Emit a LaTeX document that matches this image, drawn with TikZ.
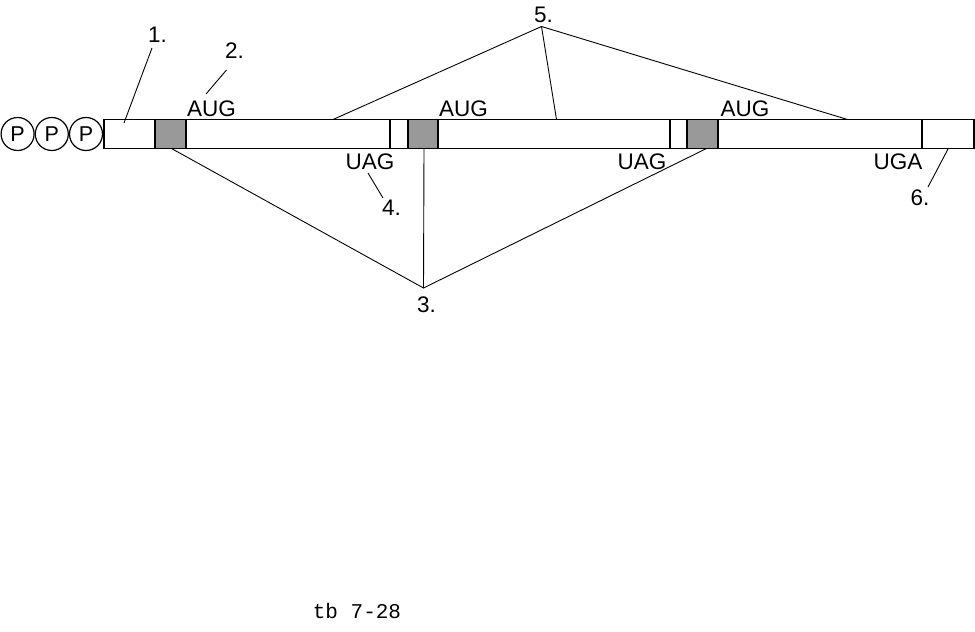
\documentclass[tikz,border=0pt]{standalone}
\usepackage{fontspec}
\setmainfont{Liberation Sans}
\setmonofont{Liberation Mono}
\usetikzlibrary{positioning}
\definecolor{startgray}{gray}{0.6}
\tikzset{
	phos/.style={draw, circle, minimum size=33pt, inner sep=0pt, line width=1.2pt, font=\fontsize{21.5}{25}\selectfont},
	codon/.style={anchor=base, inner sep=0pt, font=\fontsize{22.5}{26}\selectfont},
	num/.style={anchor=base, inner sep=0pt, font=\fontsize{22.5}{26}\selectfont},
	pointer/.style={line width=0.9pt},
	strand/.style={line width=1.3pt}
}
\begin{document}
\begin{tikzpicture}[x=1pt, y=-1pt]
			\useasboundingbox (0,0) rectangle (975,632);
			% cap
			\node[phos] (p3) at (86,134) {P};
			\node[phos, left=0pt of p3] (p2) {P};
			\node[phos, left=0pt of p2] (p1) {P};
			% strand
			\draw[strand] (104,119.5) rectangle (974,148.5);
			\draw[strand, fill=startgray] (155,119.5) rectangle (186,148.5);
			\draw[strand, fill=startgray] (408,119.5) rectangle (438,148.5);
			\draw[strand, fill=startgray] (687,119.5) rectangle (718,148.5);
			\draw[strand] (390,119.5) -- (390,148.5);
			\draw[strand] (670,119.5) -- (670,148.5);
			\draw[strand] (922,119.5) -- (922,148.5);
			% codons
			\node[codon] (aug1) at (211.5,116) {AUG};
			\node[codon] (aug2) at (463.5,116) {AUG};
			\node[codon] (aug3) at (745,116) {AUG};
			\node[codon] (uag1) at (370,169) {UAG};
			\node[codon] (uag2) at (642,169) {UAG};
			\node[codon] (uga) at (898,169) {UGA};
			% numbers
			\node[num] (one) at (157.5,42) {1.};
			\node[num] (two) at (234.5,58) {2.};
			\node[num] (three) at (426.5,312) {3.};
			\node[num] (four) at (391.5,215) {4.};
			\node[num] (five) at (543.5,22) {5.};
			\node[num] (six) at (920,205) {6.};
			% pointer ends
			\coordinate (one tip) at (152,48);
			\coordinate (leader) at (124,123);
			\coordinate (two tip) at (226.5,70);
			\coordinate (two end) at (206,94);
			\coordinate (four tip) at (383,198);
			\coordinate (four end) at (368,173);
			\coordinate (six tip) at (928,187);
			\coordinate (six end) at (948,149);
			\coordinate (three apex) at (423.5,288);
			\coordinate (start a) at (171.5,148.5);
			\coordinate (start b) at (424,148.5);
			\coordinate (start c) at (706.5,148.5);
			\coordinate (five apex) at (541.5,26.5);
			\coordinate (frame a) at (333,119.5);
			\coordinate (frame b) at (556.5,119.5);
			\coordinate (frame c) at (847.5,119.5);
			\draw[pointer] (one tip) -- (leader);
			\draw[pointer] (two tip) -- (two end);
			\draw[pointer] (four tip) -- (four end);
			\draw[pointer] (six tip) -- (six end);
			\draw[pointer] (start a) -- (three apex) -- (start c);
			\draw[pointer] (start b) -- (three apex);
			\draw[pointer] (frame a) -- (five apex) -- (frame c);
			\draw[pointer] (frame b) -- (five apex);
			% figure tag
			\node[anchor=base, inner sep=0pt, font=\ttfamily\fontsize{21}{25}\selectfont] (tag) at (357,618) {tb 7-28};
\end{tikzpicture}
\end{document}
